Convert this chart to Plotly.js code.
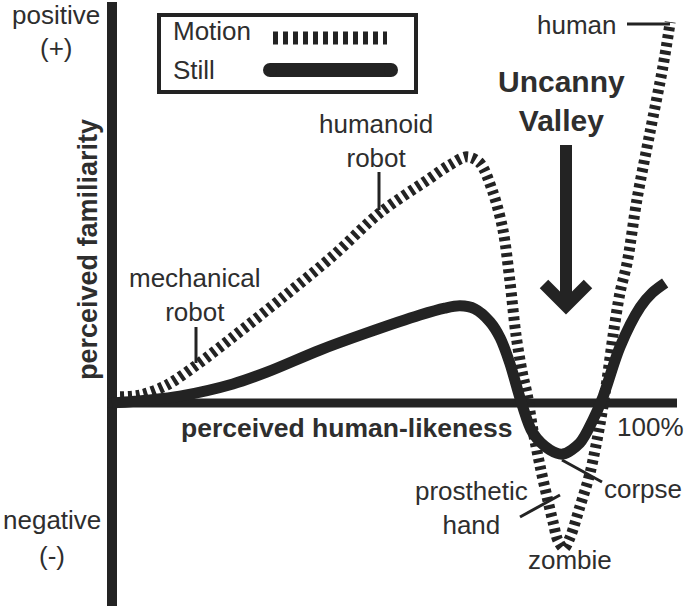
<!DOCTYPE html>
<html>
<head>
<meta charset="utf-8">
<script src="https://cdn.plot.ly/plotly-3.0.1.min.js"></script>
<style>html,body{margin:0;padding:0;background:#fff;}#chart{width:685px;height:608px;}</style>
</head>
<body>
<div id="chart"></div>
<script>
// perceived human-likeness (%) and perceived familiarity (human = 100)
const motionX = [0, 5.0, 9.7, 15.0, 21.4, 30.3, 39.1, 47.4, 55.8, 59.8, 62.8, 65.1, 67.4, 69.2, 70.4, 71.5, 72.6, 73.5, 74.5, 75.8, 77.0, 78.1, 78.9, 80.0, 81.1, 82.8, 84.6, 86.4, 87.6, 88.7, 89.9, 91.2, 92.9, 95.2, 97.5, 98.8];
const motionY = [1.6, 2.1, 4.7, 10.0, 17.3, 27.8, 38.6, 49.9, 58.5, 62.5, 64.6, 63.0, 55.4, 45.4, 32.3, 17.9, 8.1, 2.1, -7.1, -16.8, -24.7, -31.5, -36.0, -38.1, -35.2, -27.3, -18.4, -5.3, 6.0, 17.9, 28.9, 37.0, 53.3, 70.9, 88.2, 100];
const stillX = [0, 6.7, 12.0, 21.4, 27.4, 36.8, 45.1, 54.5, 58.9, 61.6, 64.2, 66.9, 68.7, 70.4, 71.7, 72.6, 74.5, 77.5, 79.8, 82.8, 85.1, 86.9, 89.9, 93.5, 95.6, 97.9];
const stillY = [0, 0.8, 1.8, 5.0, 8.1, 13.9, 18.4, 23.1, 24.9, 25.5, 24.7, 21.3, 17.1, 10.5, 3.9, -0.5, -7.9, -12.3, -13.4, -10.5, -4.5, 1.6, 14.7, 25.2, 28.9, 31.5];
const seriesNames = ["Motion", "Still"];
const axisTitles = ["perceived human-likeness", "perceived familiarity"];
const endLabels = ["positive", "(+)", "negative", "(-)", "100%"];
const pointLabels = ["mechanical<br>robot", "humanoid<br>robot", "human", "corpse", "prosthetic<br>hand", "zombie"];
const valleyLabel = "Uncanny<br>Valley";

// page pixel -> data helpers (layout only)
const X = px => (px - 112) / 5.65;
const Y = py => (403 - py) / 3.81;
const INK = '#232323';
const TXT = '#2e2e2e';
const FONT = 'Liberation Sans, Arial, sans-serif';

const traces = [
  {x: motionX, y: motionY, mode: 'lines', name: seriesNames[0],
   line: {color: INK, width: 11, dash: '4px,4px', shape: 'spline', smoothing: 0.9}},
  {x: stillX, y: stillY, mode: 'lines', name: seriesNames[1],
   line: {color: INK, width: 11, shape: 'spline', smoothing: 0.9}}
];

function ann(text, px, py, size, opts) {
  return Object.assign({text: text, x: px / 685, y: 1 - py / 608, xref: 'paper', yref: 'paper',
    showarrow: false, xanchor: 'center', yanchor: 'middle',
    font: {family: FONT, size: size, color: TXT}}, opts || {});
}
function seg(x0, y0, x1, y1, w, extra) {
  return Object.assign({type: 'line', xref: 'x', yref: 'y', x0: X(x0), y0: Y(y0), x1: X(x1), y1: Y(y1),
    line: {color: INK, width: w}}, extra || {});
}
const boldFont = s => ({family: FONT, size: s, color: TXT, weight: 'bold'});

const annotations = [
  ann(endLabels[0], 56, 15, 26),
  ann(endLabels[1], 56, 48, 26),
  ann(endLabels[2], 52, 520, 26),
  ann(endLabels[3], 52, 556, 26),
  ann(endLabels[4], 650, 427, 26),
  ann('<b>' + axisTitles[1] + '</b>', 88, 250, 27, {textangle: -90, font: boldFont(27)}),
  ann('<b>' + axisTitles[0] + '</b>', 346, 428, 26.5, {font: boldFont(26.5)}),
  ann(seriesNames[0], 171, 31, 26, {xanchor: 'left'}),
  ann(seriesNames[1], 171, 70, 26, {xanchor: 'left'}),
  ann(pointLabels[0], 195, 295, 26),
  ann(pointLabels[1], 376, 141, 26),
  ann(pointLabels[2], 577, 25, 26),
  ann(pointLabels[3], 643, 489, 26),
  ann(pointLabels[4], 471, 508, 26),
  ann(pointLabels[5], 570, 560, 26),
  ann('<b>' + valleyLabel + '</b>', 561, 101, 30, {font: boldFont(30)})
];

const shapes = [
  seg(112, 2, 112, 606, 10, {layer: 'below'}),
  seg(107, 403, 677, 403, 9, {layer: 'below'}),
  // legend box
  {type: 'rect', xref: 'x', yref: 'y', x0: X(159), x1: X(416), y0: Y(15), y1: Y(92),
   line: {color: INK, width: 4}, fillcolor: 'rgba(0,0,0,0)'},
  seg(273, 38, 387, 38, 13, {line: {color: INK, width: 13, dash: '5px,5px'}}),
  seg(270, 70, 391, 70, 14),
  {type: 'circle', xref: 'x', yref: 'y', xsizemode: 'pixel', ysizemode: 'pixel', xanchor: X(270), yanchor: Y(70),
   x0: -7, x1: 7, y0: -7, y1: 7, fillcolor: INK, line: {width: 0}},
  {type: 'circle', xref: 'x', yref: 'y', xsizemode: 'pixel', ysizemode: 'pixel', xanchor: X(391), yanchor: Y(70),
   x0: -7, x1: 7, y0: -7, y1: 7, fillcolor: INK, line: {width: 0}},
  // pointers
  seg(196, 327, 196, 363, 3),
  seg(379, 172, 379, 210, 3),
  seg(627, 24, 670, 24, 3),
  seg(562, 460, 602, 482, 3),
  seg(520, 517, 560, 495, 3),
  // valley arrow
  {type: 'path', xref: 'x', yref: 'y', line: {color: INK, width: 12},
   path: 'M' + X(566) + ',' + Y(145) + ' L' + X(566) + ',' + Y(304) +
         ' M' + X(544) + ',' + Y(284) + ' L' + X(566) + ',' + Y(306) + ' L' + X(588) + ',' + Y(284)}
];

const layout = {
  width: 685, height: 608, margin: {l: 0, r: 0, t: 0, b: 0},
  paper_bgcolor: '#fff', plot_bgcolor: '#fff', showlegend: false,
  xaxis: {visible: false, range: [X(0), X(685)], fixedrange: true},
  yaxis: {visible: false, range: [Y(608), Y(0)], fixedrange: true},
  annotations: annotations, shapes: shapes
};
Plotly.newPlot('chart', traces, layout, {displayModeBar: false, staticPlot: true});
</script>
</body>
</html>
